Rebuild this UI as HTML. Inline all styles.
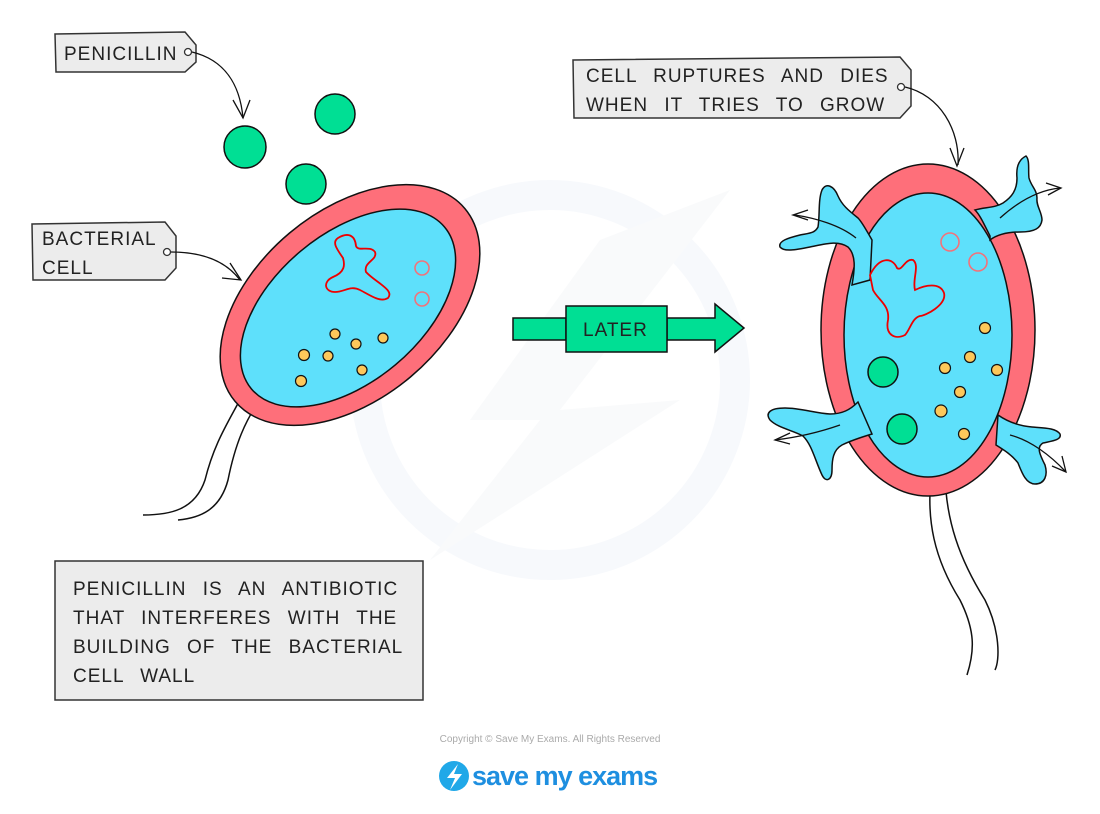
<!DOCTYPE html>
<html><head><meta charset="utf-8"><style>
body{margin:0;background:#fff;width:1100px;height:809px;overflow:hidden;font-family:"Liberation Sans",sans-serif}
</style></head><body>
<svg width="1100" height="809" viewBox="0 0 1100 809" xmlns="http://www.w3.org/2000/svg">
<!-- watermark -->
<circle cx="550" cy="380" r="185" fill="none" stroke="#f7f9fc" stroke-width="30"/>
<polygon points="470,420 600,240 730,190 560,410 680,400 430,560 540,420" fill="#f9fafb"/>

<!-- Tags -->
<g stroke="#333" stroke-width="1.5" fill="#ececec">
<path d="M55,34 L185,32 L196,45 L196,62 L185,72 L56,72 Z"/>
<path d="M32,224 L165,222 L176,236 L176,268 L165,280 L33,280 Z"/>
<path d="M573,60 L900,57 L911,70 L911,106 L900,118 L574,118 Z"/>
<rect x="55" y="561" width="368" height="139"/>
</g>
<g fill="#fff" stroke="#333" stroke-width="1.3">
<circle cx="188" cy="52" r="3.5"/><circle cx="167" cy="252" r="3.5"/><circle cx="901" cy="87" r="3.5"/>
</g>
<g font-size="19" fill="#222" letter-spacing="1">
<text x="64" y="60">PENICILLIN</text>
<text x="42" y="245">BACTERIAL</text>
<text x="42" y="274">CELL</text>
<text x="586" y="82" word-spacing="10">CELL RUPTURES AND DIES</text>
<text x="586" y="111" word-spacing="10">WHEN IT TRIES TO GROW</text>
<text x="73" y="595" word-spacing="10">PENICILLIN IS AN ANTIBIOTIC</text>
<text x="73" y="624" word-spacing="10">THAT INTERFERES WITH THE</text>
<text x="73" y="653" word-spacing="10">BUILDING OF THE BACTERIAL</text>
<text x="73" y="682" word-spacing="10">CELL WALL</text>
</g>
<!-- pointer arrows -->
<g fill="none" stroke="#111" stroke-width="1.3">
<path d="M192,52 C225,60 240,85 243,118"/><path d="M233,100 L243,118 L250,100"/>
<path d="M171,252 C200,252 225,260 240,280"/><path d="M230,263 L241,280 L222,278"/>
<path d="M905,87 C940,95 960,130 958,165"/><path d="M950,148 L957,166 L964,148"/>
</g>
<!-- penicillin molecules -->
<g fill="#00df94" stroke="#111" stroke-width="1.5">
<circle cx="245" cy="147" r="21"/><circle cx="335" cy="114" r="20"/><circle cx="306" cy="184" r="20"/>
</g>

<!-- left cell -->
<g stroke="#111" stroke-width="1.5">
<path d="M245,390 C230,420 215,440 205,480 C195,510 170,515 143,515" fill="none"/>
<path d="M262,397 C245,420 235,445 228,480 C220,510 200,518 178,520" fill="none"/>
<ellipse cx="350" cy="305" rx="150" ry="94" transform="rotate(-40 350 305)" fill="#fe6f7a"/>
<ellipse cx="348" cy="308" rx="126" ry="74" transform="rotate(-40 348 308)" fill="#5ee0fb"/>
</g>
<path d="M338,238 C348,232 355,235 356,246 C358,252 370,245 375,252 C378,260 363,262 366,272 C375,282 395,290 388,298 C380,303 370,295 360,290 C350,285 345,292 335,292 C325,292 322,282 333,277 C345,272 345,265 343,258 C336,248 332,242 338,238 Z" fill="none" stroke="#e00" stroke-width="1.8"/>
<g fill="none" stroke="#f2727a" stroke-width="1.6"><circle cx="422" cy="268" r="7"/><circle cx="422" cy="299" r="7"/></g>
<g fill="#fdc85a" stroke="#111" stroke-width="1.2">
<circle cx="335" cy="334" r="5"/><circle cx="356" cy="344" r="5"/><circle cx="383" cy="338" r="5"/><circle cx="304" cy="355" r="5.5"/><circle cx="328" cy="356" r="5"/><circle cx="362" cy="370" r="5"/><circle cx="301" cy="381" r="5.5"/>
</g>

<!-- LATER arrow -->
<g fill="#00df94" stroke="#111" stroke-width="1.5">
<path d="M513,318 L566,318 L566,340 L513,340 Z"/>
<path d="M667,318 L715,318 L715,304 L744,328 L715,352 L715,340 L667,340 Z"/>
<rect x="566" y="306" width="101" height="46"/>
</g>
<text x="583" y="336" font-size="19" fill="#222" letter-spacing="1">LATER</text>

<!-- right cell -->
<g stroke="#111" stroke-width="1.5">
<path d="M932,470 C925,520 935,560 960,600 C975,630 975,650 967,675" fill="none"/>
<path d="M945,470 C945,520 960,560 985,600 C1000,630 1000,660 995,670" fill="none"/>
<ellipse cx="928" cy="330" rx="107" ry="166" fill="#fe6f7a"/>
<ellipse cx="928" cy="335" rx="84" ry="142" fill="#5ee0fb"/>
<!-- blebs -->
<path d="M872,240 C865,228 862,222 858,218 C848,210 842,205 838,196 C834,186 826,182 822,190 C818,200 820,215 818,227 C815,233 810,233 800,235 C788,238 778,241 780,247 C784,252 795,250 810,247 C825,244 838,240 848,247 C856,255 855,268 852,285 L870,280 Z" fill="#5ee0fb"/>
<path d="M990,236 C984,224 980,215 975,210 C985,207 995,208 1003,203 C1012,197 1017,190 1017,178 C1016,168 1018,160 1026,156 C1030,160 1028,170 1029,178 C1031,186 1037,190 1037,198 C1036,206 1042,212 1042,220 C1041,228 1035,232 1020,232 C1008,232 998,234 990,240 Z" fill="#5ee0fb"/>
<path d="M858,402 C850,410 842,414 830,414 C815,413 800,408 785,408 C770,408 765,413 770,420 C778,428 792,430 803,436 C812,445 815,460 822,475 C826,483 832,480 832,470 C832,460 833,450 842,445 C852,440 862,437 872,434 Z" fill="#5ee0fb"/>
<path d="M998,415 C1008,422 1020,426 1032,427 C1045,428 1056,428 1060,434 C1062,440 1052,441 1043,443 C1036,447 1040,455 1045,465 C1048,475 1045,484 1035,484 C1026,484 1022,473 1018,463 C1012,455 1004,450 996,445 Z" fill="#5ee0fb"/>
</g>
<path d="M870,275 C880,255 893,258 897,268 C902,272 905,258 913,260 C920,265 912,280 915,290 C925,285 940,282 944,293 C947,305 925,316 920,316 C912,318 910,330 905,335 C895,340 885,335 888,320 C890,305 878,300 873,290 Z" fill="none" stroke="#e00" stroke-width="1.8"/>
<g fill="none" stroke="#f2727a" stroke-width="1.6"><circle cx="950" cy="242" r="9"/><circle cx="978" cy="262" r="9"/></g>
<g fill="#00df94" stroke="#111" stroke-width="1.5"><circle cx="883" cy="372" r="15"/><circle cx="902" cy="429" r="15"/></g>
<g fill="#fdc85a" stroke="#111" stroke-width="1.2">
<circle cx="985" cy="328" r="5.5"/><circle cx="970" cy="357" r="5.5"/><circle cx="945" cy="368" r="5.5"/><circle cx="997" cy="370" r="5.5"/><circle cx="960" cy="392" r="5.5"/><circle cx="941" cy="411" r="6"/><circle cx="964" cy="434" r="5.5"/>
</g>
<g fill="none" stroke="#111" stroke-width="1.3">
<path d="M856,238 C840,225 815,218 795,215"/><path d="M808,210 L793,215 L808,220"/>
<path d="M1000,218 C1020,200 1040,190 1060,188"/><path d="M1046,183 L1061,188 L1048,195"/>
<path d="M840,425 C820,432 800,437 775,440"/><path d="M790,433 L775,440 L790,444"/>
<path d="M1010,435 C1030,440 1050,455 1066,472"/><path d="M1062,456 L1066,472 L1052,466"/>
</g>

<!-- footer -->
<text x="550" y="742" font-size="10" fill="#aaa" text-anchor="middle">Copyright © Save My Exams. All Rights Reserved</text>
<circle cx="454" cy="776" r="15" fill="#20a8e8"/>
<path d="M458,764 L447,778 L455,778 L450,790 L462,774 L454,774 Z" fill="#fff"/>
<text x="472" y="785" font-size="27" font-weight="bold" fill="#1e8fe0" letter-spacing="-1">save my exams</text>
</svg>
</body></html>
